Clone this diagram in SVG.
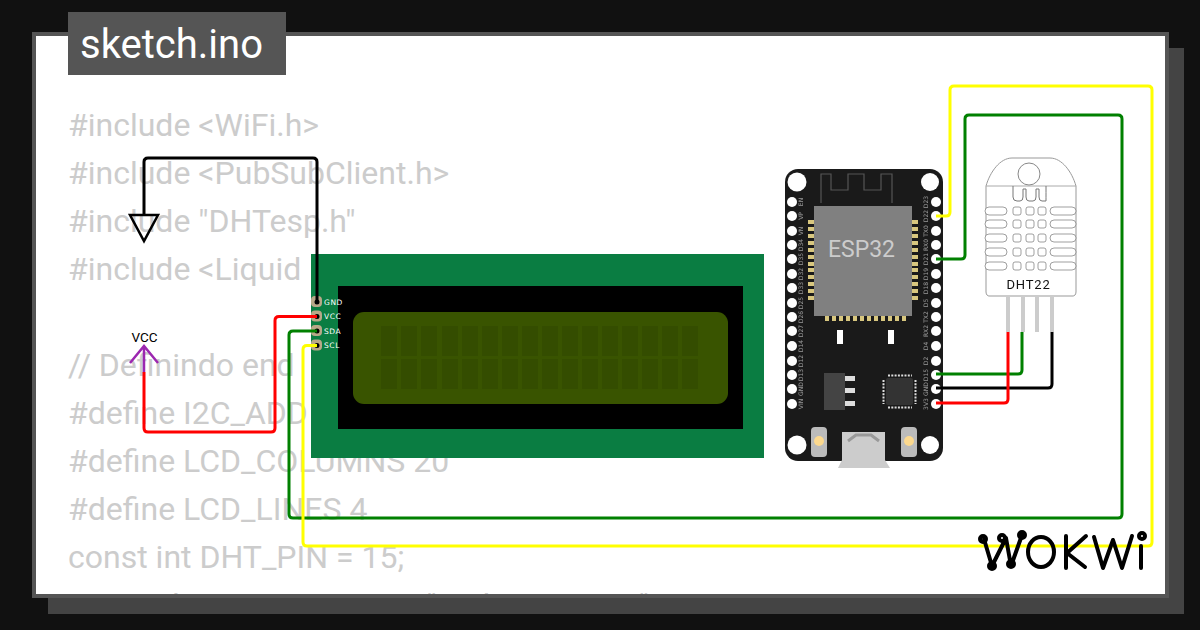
<svg xmlns="http://www.w3.org/2000/svg" width="1200" height="630" viewBox="0 0 1200 630">
<defs>
<style>
.code{font:32px Roboto,"Liberation Sans",sans-serif;fill:#ccc}
.w{fill:none;stroke-width:3;stroke-linejoin:round}
.pin{fill:#fff}
.lbl{font:6px "DejaVu Sans",sans-serif;fill:#fff;opacity:.55;text-anchor:middle}
.lcd{font:7.5px "DejaVu Sans",sans-serif;fill:#fff;letter-spacing:.6px}
.vent{fill:#fff;stroke:#777;stroke-width:.7}
.cell{fill:#000;opacity:.07}
.pad{fill:#d8c77f}
.gold{fill:#b8a888}
</style>
<clipPath id="paper"><rect x="36" y="36" width="1129" height="558"/></clipPath>
</defs>
<rect width="1200" height="630" fill="#111"/>
<rect x="48" y="48" width="1136" height="566" fill="#444"/>
<rect x="34" y="34" width="1133" height="562" fill="#fff" stroke="#555" stroke-width="4"/>
<g clip-path="url(#paper)">
<text class="code" x="68" y="136">#include &lt;WiFi.h&gt;</text>
<text class="code" x="68" y="184">#include &lt;PubSubClient.h&gt;</text>
<text class="code" x="68" y="232">#include "DHTesp.h"</text>
<text class="code" x="68" y="280">#include &lt;Liquid</text>
<text class="code" x="68" y="376">// Definindo end</text>
<text class="code" x="68" y="424">#define I2C_ADD</text>
<text class="code" x="68" y="472">#define LCD_COLUMNS 20</text>
<text class="code" x="68" y="520">#define LCD_LINES   4</text>
<text class="code" x="68" y="568">const int DHT_PIN = 15;</text>
<text class="code" x="68" y="616">const char* SSIDName = "Wokwi-GUEST";</text>
</g>
<rect x="68" y="12" width="218" height="63" fill="#555"/>
<text x="80" y="58" font-family="Roboto,sans-serif" font-size="40" fill="#fff">sketch.ino</text>

<g id="lcd">
<rect x="311" y="254" width="453" height="204" fill="#0a7d42"/>
<rect x="338" y="286" width="405" height="143" fill="#000"/>
<rect x="353" y="312" width="375" height="92" rx="11" fill="#395400"/>
<g id="lcd-cells" class="cell">
<rect x="381" y="326" width="16" height="30"/><rect x="401" y="326" width="16" height="30"/><rect x="421" y="326" width="16" height="30"/><rect x="442" y="326" width="16" height="30"/><rect x="462" y="326" width="16" height="30"/><rect x="482" y="326" width="16" height="30"/><rect x="502" y="326" width="16" height="30"/><rect x="522" y="326" width="16" height="30"/><rect x="542" y="326" width="16" height="30"/><rect x="562" y="326" width="16" height="30"/><rect x="582" y="326" width="16" height="30"/><rect x="602" y="326" width="16" height="30"/><rect x="622" y="326" width="16" height="30"/><rect x="642" y="326" width="16" height="30"/><rect x="662" y="326" width="16" height="30"/><rect x="682" y="326" width="16" height="30"/>
<rect x="381" y="359" width="16" height="30"/><rect x="401" y="359" width="16" height="30"/><rect x="421" y="359" width="16" height="30"/><rect x="442" y="359" width="16" height="30"/><rect x="462" y="359" width="16" height="30"/><rect x="482" y="359" width="16" height="30"/><rect x="502" y="359" width="16" height="30"/><rect x="522" y="359" width="16" height="30"/><rect x="542" y="359" width="16" height="30"/><rect x="562" y="359" width="16" height="30"/><rect x="582" y="359" width="16" height="30"/><rect x="602" y="359" width="16" height="30"/><rect x="622" y="359" width="16" height="30"/><rect x="642" y="359" width="16" height="30"/><rect x="662" y="359" width="16" height="30"/><rect x="682" y="359" width="16" height="30"/>
</g>
<g class="gold">
<rect x="311" y="296" width="11" height="11" rx="4"/><rect x="311" y="310.500" width="11" height="11" rx="4"/><rect x="311" y="325" width="11" height="11" rx="4"/><rect x="311" y="339.500" width="11" height="11" rx="4"/>
</g>
<circle cx="317" cy="302" r="2.500"/><circle cx="317" cy="316.500" r="2.500"/><circle cx="317" cy="331" r="2.500"/><circle cx="317" cy="345.500" r="2.500"/>
<text class="lcd" x="324" y="305">GND</text>
<text class="lcd" x="324" y="319">VCC</text>
<text class="lcd" x="324" y="334">SDA</text>
<text class="lcd" x="324" y="348">SCL</text>
</g>

<g id="gnd">
<path d="M130 215H158L144 241Z" fill="none" stroke="#000" stroke-width="2.500"/>
</g>
<g id="vcc">
<text x="144.500" y="342" font-family="Roboto,sans-serif" font-size="13.500" text-anchor="middle" fill="#000">VCC</text>
<path d="M130 363L144 346L158 363M144 346V372" fill="none" stroke="#9c27b0" stroke-width="2.500"/>
</g>

<g id="esp32">
<rect x="785" y="169" width="158" height="292" rx="13" fill="#1a1a1a"/>
<path d="M821 203V174H831V190H848V174H864V190H881V174H892V203" fill="none" stroke="#555" stroke-width="1.200" transform="translate(0,0)"/>
<g class="pad">
<rect x="808" y="220" width="6" height="4"/><rect x="808" y="227" width="6" height="4"/><rect x="808" y="234" width="6" height="4"/><rect x="808" y="241" width="6" height="4"/><rect x="808" y="248" width="6" height="4"/><rect x="808" y="255" width="6" height="4"/><rect x="808" y="262" width="6" height="4"/><rect x="808" y="268" width="6" height="4"/><rect x="808" y="275" width="6" height="4"/><rect x="808" y="282" width="6" height="4"/><rect x="808" y="289" width="6" height="4"/><rect x="808" y="296" width="6" height="4"/>
<rect x="912" y="220" width="6" height="4"/><rect x="912" y="227" width="6" height="4"/><rect x="912" y="234" width="6" height="4"/><rect x="912" y="241" width="6" height="4"/><rect x="912" y="248" width="6" height="4"/><rect x="912" y="255" width="6" height="4"/><rect x="912" y="262" width="6" height="4"/><rect x="912" y="268" width="6" height="4"/><rect x="912" y="275" width="6" height="4"/><rect x="912" y="282" width="6" height="4"/><rect x="912" y="289" width="6" height="4"/><rect x="912" y="296" width="6" height="4"/>
<rect x="825" y="315" width="4" height="6"/><rect x="832" y="315" width="4" height="6"/><rect x="839" y="315" width="4" height="6"/><rect x="846" y="315" width="4" height="6"/><rect x="853" y="315" width="4" height="6"/><rect x="860" y="315" width="4" height="6"/><rect x="867" y="315" width="4" height="6"/><rect x="874" y="315" width="4" height="6"/><rect x="881" y="315" width="4" height="6"/><rect x="888" y="315" width="4" height="6"/><rect x="895" y="315" width="4" height="6"/><rect x="902" y="315" width="4" height="6"/>
</g>
<rect x="814" y="206" width="98" height="110" fill="#808080"/>
<text x="861.500" y="257" font-family="Roboto,sans-serif" font-size="23" text-anchor="middle" fill="#ccc">ESP32</text>
<circle cx="797" cy="182" r="9.500" fill="#fff"/><circle cx="930" cy="182" r="9" fill="#fff"/><circle cx="797" cy="445" r="9.500" fill="#fff"/><circle cx="930" cy="445" r="9" fill="#fff"/>
<g class="pin">
<circle cx="792" cy="202" r="5"/><circle cx="792" cy="216" r="5"/><circle cx="792" cy="231" r="5"/><circle cx="792" cy="245" r="5"/><circle cx="792" cy="259" r="5"/><circle cx="792" cy="274" r="5"/><circle cx="792" cy="288" r="5"/><circle cx="792" cy="303" r="5"/><circle cx="792" cy="317" r="5"/><circle cx="792" cy="331" r="5"/><circle cx="792" cy="346" r="5"/><circle cx="792" cy="361" r="5"/><circle cx="792" cy="375" r="5"/><circle cx="792" cy="389" r="5"/><circle cx="792" cy="404" r="5"/>
<circle cx="936" cy="202" r="5"/><circle cx="936" cy="216" r="5"/><circle cx="936" cy="231" r="5"/><circle cx="936" cy="245" r="5"/><circle cx="936" cy="259" r="5"/><circle cx="936" cy="274" r="5"/><circle cx="936" cy="288" r="5"/><circle cx="936" cy="303" r="5"/><circle cx="936" cy="317" r="5"/><circle cx="936" cy="331" r="5"/><circle cx="936" cy="346" r="5"/><circle cx="936" cy="361" r="5"/><circle cx="936" cy="375" r="5"/><circle cx="936" cy="389" r="5"/><circle cx="936" cy="404" r="5"/>
</g>
<g class="lbl">
<text transform="translate(803,202) rotate(-90)">EN</text><text transform="translate(803,216) rotate(-90)">VP</text><text transform="translate(803,231) rotate(-90)">VN</text><text transform="translate(803,245) rotate(-90)">D34</text><text transform="translate(803,259) rotate(-90)">D35</text><text transform="translate(803,274) rotate(-90)">D32</text><text transform="translate(803,288) rotate(-90)">D33</text><text transform="translate(803,303) rotate(-90)">D25</text><text transform="translate(803,317) rotate(-90)">D26</text><text transform="translate(803,331) rotate(-90)">D27</text><text transform="translate(803,346) rotate(-90)">D14</text><text transform="translate(803,361) rotate(-90)">D12</text><text transform="translate(803,375) rotate(-90)">D13</text><text transform="translate(803,389) rotate(-90)">GND</text><text transform="translate(803,404) rotate(-90)">VIN</text>
<text transform="translate(928,202) rotate(-90)">D23</text><text transform="translate(928,216) rotate(-90)">D22</text><text transform="translate(928,231) rotate(-90)">TX0</text><text transform="translate(928,245) rotate(-90)">RX0</text><text transform="translate(928,259) rotate(-90)">D21</text><text transform="translate(928,274) rotate(-90)">D19</text><text transform="translate(928,288) rotate(-90)">D18</text><text transform="translate(928,303) rotate(-90)">D5</text><text transform="translate(928,317) rotate(-90)">TX2</text><text transform="translate(928,331) rotate(-90)">RX2</text><text transform="translate(928,346) rotate(-90)">D4</text><text transform="translate(928,361) rotate(-90)">D2</text><text transform="translate(928,375) rotate(-90)">D15</text><text transform="translate(928,389) rotate(-90)">GND</text><text transform="translate(928,404) rotate(-90)">3V3</text>
</g>
<rect x="837" y="330" width="6" height="14" fill="#fff"/><rect x="888" y="330" width="6" height="14" fill="#fff"/>
<rect x="824" y="383" width="11" height="26" fill="#f2f2f2"/>
<rect x="824" y="373" width="21" height="37" fill="#444" x-note=""/>
<rect x="845" y="376" width="10" height="5" fill="#ddd"/><rect x="845" y="388" width="10" height="5" fill="#ddd"/><rect x="845" y="401" width="10" height="5" fill="#ddd"/>
<rect x="886" y="378" width="27" height="27" rx="2" fill="#333"/>
<path d="M888 375.500h24M888 407.500h24M883.500 380v24M915.500 380v24" stroke="#ddd" stroke-width="2" stroke-dasharray="2 1.300" fill="none"/>
<rect x="811" y="427" width="16" height="30" rx="4" fill="#bbb"/><circle cx="819" cy="441" r="5" fill="#fcd98f"/>
<rect x="901" y="427" width="16" height="30" rx="4" fill="#bbb"/><circle cx="909" cy="441" r="5" fill="#fcd98f"/>
<path d="M842 432H885V460L890 468H838L842 460Z" fill="#ccc"/>
<path d="M848 441L856 435H871L879 441" fill="none" stroke="#999" stroke-width="3"/>
</g>

<g id="dht22">
<path d="M986 186C990 172 1000 158 1012 158H1050C1062 158 1072 172 1076 186V292C1076 295 1074 296 1073 296H989C988 296 986 295 986 292Z" fill="#fff" stroke="#999" stroke-width="1"/>
<path d="M986 186H1076" stroke="#aaa" stroke-width="1"/>
<circle cx="1029" cy="174" r="11" fill="#fff" stroke="#888"/>
<path d="M1013 186V197Q1013 201 1017 201H1020Q1023 201 1023 197V189H1026V197Q1026 201 1029 201H1033Q1036 201 1036 197V189H1039V197Q1039 201 1042 201H1046Q1046 201 1046 186" fill="none" stroke="#777"/>
<g class="vent">
<rect x="985" y="207" width="22" height="8" rx="4"/><rect x="985" y="220" width="22" height="8" rx="4"/><rect x="985" y="234" width="22" height="8" rx="4"/><rect x="985" y="248" width="22" height="8" rx="4"/><rect x="985" y="262" width="22" height="8" rx="4"/>
<rect x="1050" y="207" width="26" height="8" rx="4"/><rect x="1050" y="220" width="26" height="8" rx="4"/><rect x="1050" y="234" width="26" height="8" rx="4"/><rect x="1050" y="248" width="26" height="8" rx="4"/><rect x="1050" y="262" width="26" height="8" rx="4"/>
<rect x="1013" y="207" width="8" height="8" rx="2"/><rect x="1026" y="207" width="8" height="8" rx="2"/><rect x="1038" y="207" width="8" height="8" rx="2"/>
<rect x="1013" y="220" width="8" height="8" rx="2"/><rect x="1026" y="220" width="8" height="8" rx="2"/><rect x="1038" y="220" width="8" height="8" rx="2"/>
<rect x="1013" y="234" width="8" height="8" rx="2"/><rect x="1026" y="234" width="8" height="8" rx="2"/><rect x="1038" y="234" width="8" height="8" rx="2"/>
<rect x="1013" y="248" width="8" height="8" rx="2"/><rect x="1026" y="248" width="8" height="8" rx="2"/><rect x="1038" y="248" width="8" height="8" rx="2"/>
<rect x="1013" y="262" width="8" height="8" rx="2"/><rect x="1026" y="262" width="8" height="8" rx="2"/><rect x="1038" y="262" width="8" height="8" rx="2"/>
</g>
<text x="1028.500" y="289" font-family="Roboto,sans-serif" font-size="13" letter-spacing=".8" text-anchor="middle" fill="#111">DHT22</text>
<rect x="1006" y="296" width="4" height="36" fill="#ccc"/><rect x="1021" y="296" width="4" height="36" fill="#ccc"/><rect x="1035" y="296" width="4" height="36" fill="#ccc"/><rect x="1050" y="296" width="4" height="36" fill="#ccc"/>
</g>

<g id="connectors" class="w">
<path class="w" stroke="#000" d="M317 302V162Q317 158 313 158H148Q144 158 144 162V215"/>
<path class="w" stroke="#f00" d="M317 316.500H279Q275 316.500 275 320.500V428Q275 432 271 432H148Q144 432 144 428V372"/>
<path class="w" stroke="#008000" d="M317 331H293Q289 331 289 335V514Q289 518 293 518H1118Q1122 518 1122 514V119Q1122 115 1118 115H969Q965 115 965 119V255Q965 259 961 259H936"/>
<path class="w" stroke="#ff0" d="M317 345.500H307Q303 345.500 303 349.500V542Q303 546 307 546H1148Q1152 546 1152 542V90Q1152 86 1148 86H954Q950 86 950 90V212Q950 216 946 216H936"/>
<path class="w" stroke="#008000" d="M936 374H1018Q1022 374 1022 370V332"/>
<path class="w" stroke="#000" d="M936 388H1048Q1052 388 1052 384V332"/>
<path class="w" stroke="#f00" d="M936 403H1004Q1008 403 1008 399V332"/>
</g>

<g id="logo" fill="none" stroke="#000" stroke-width="4" stroke-linecap="round" stroke-linejoin="round">
<path d="M984 539L992 566L1006 538L1011 566L1022 535"/>
<circle cx="983" cy="539" r="3"/><circle cx="1002" cy="538" r="3"/><circle cx="1022" cy="535" r="3"/><circle cx="992" cy="566" r="3"/><circle cx="1011" cy="564" r="3"/>
<ellipse cx="1041" cy="552" rx="13" ry="15"/>
<path d="M1066 536V568M1086 536L1067 553L1085 567"/>
<path d="M1094 537L1103 568L1113 540L1122 568L1132 536"/>
<path d="M1141 546V568"/><circle cx="1142" cy="536" r="3"/>
</g>
</svg>
